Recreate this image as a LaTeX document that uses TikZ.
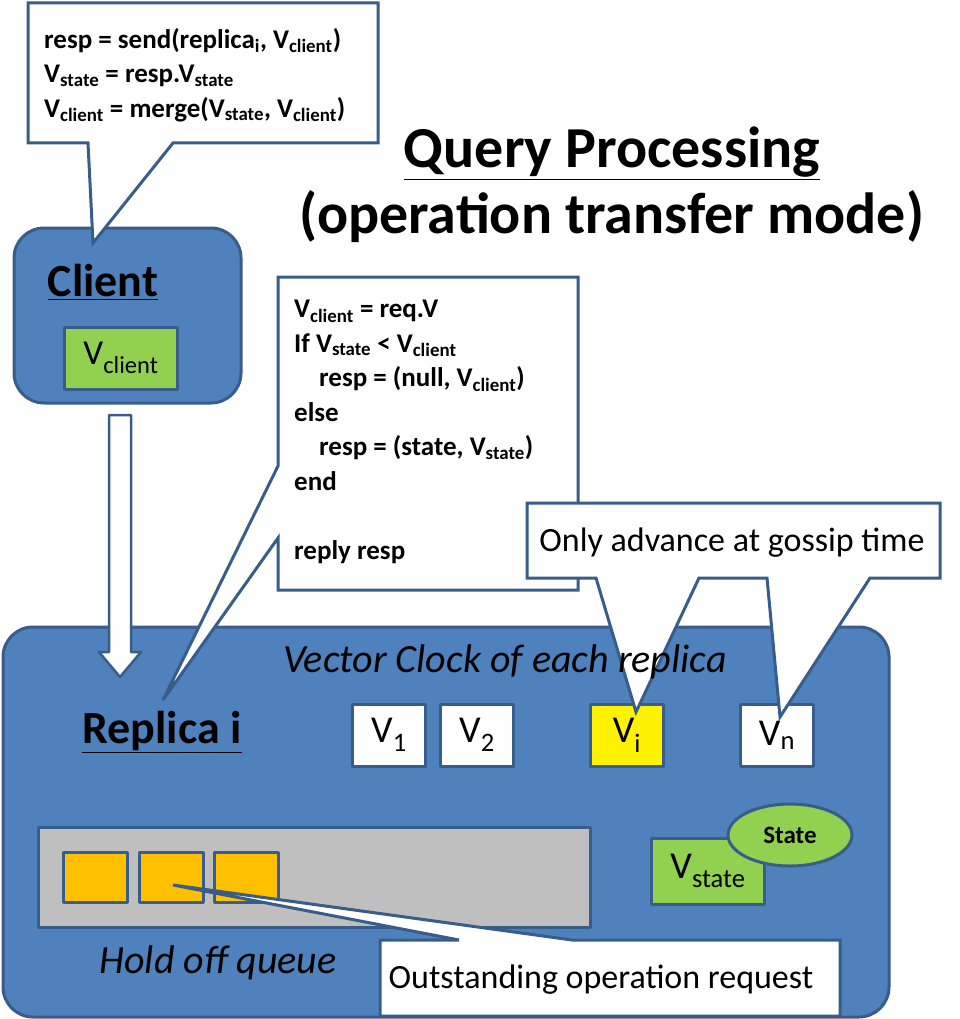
\documentclass[tikz,border=0pt]{standalone}
\usepackage{fontspec}
\setmainfont{Carlito}
\usetikzlibrary{shapes.geometric}
\definecolor{bfill}{HTML}{4F81BD}
\definecolor{bline}{HTML}{385D8A}
\definecolor{gfill}{HTML}{92D050}
\definecolor{ofill}{HTML}{FFC000}
\definecolor{qfill}{HTML}{BFBFBF}
\tikzset{
  bl/.style={draw=bline,line width=3pt,line join=round},
  blue box/.style={bl,fill=bfill,rounded corners=30pt},
  callout/.style={bl,fill=white,line join=miter},
  vbox/.style={bl,fill=white,minimum width=73pt,minimum height=62pt,inner sep=0pt,font=\fontsize{38}{38}\selectfont},
  code/.style={anchor=north west,align=left,inner sep=0pt,font=\bfseries\fontsize{27}{34.5}\selectfont},
}
\begin{document}
\begin{tikzpicture}[x=1pt,y=-1pt]
\useasboundingbox (0,0) rectangle (959,1019);
% Client
\draw[blue box] (14,228) rectangle (241,403);
\node[font=\bfseries\fontsize{46}{46}\selectfont] (client) at (103,282) {\underline{Client}};
\node[bl,fill=gfill,minimum width=113pt,minimum height=62pt,inner sep=0pt,font=\fontsize{35}{35}\selectfont] (vc) at (121,358) {V\textsubscript{client}};
% top callout
\draw[callout] (28,3) -- (378,3) -- (378,143) -- (173,143) -- (93,243) -- (88,143) -- (28,143) -- cycle;
\node[code] (c1) at (44,28) {resp = send(replica\textsubscript{i}, V\textsubscript{client})\\V\textsubscript{state} = resp.V\textsubscript{state}\\V\textsubscript{client} = merge(V\textsubscript{state}, V\textsubscript{client})};
% title
\node[font=\bfseries\fontsize{58}{66}\selectfont,align=center] (title) at (612,185) {\underline{Query Processing}\\(operation transfer mode)};
% replica box
\draw[blue box] (3,627) rectangle (889,1017);
% hollow arrow
\draw[bl,fill=white,line width=2.5pt] (109,415) -- (131,415) -- (131,652) -- (141,652) -- (120,677) -- (99,652) -- (109,652) -- cycle;
\node[font=\bfseries\fontsize{46}{46}\selectfont] (rep) at (162,732) {\underline{Replica i}};
\node[vbox] (v1) at (389,735) {V\textsubscript{1}};
\node[vbox] (v2) at (477,735) {V\textsubscript{2}};
\node[vbox,fill=yellow] (vi) at (627,735) {V\textsubscript{i}};
\node[vbox] (vn) at (777,735) {V\textsubscript{n}};
% queue
\draw[bl,fill=qfill] (38,827) rectangle (590,927);
\foreach \x/\n in {63/q1,139/q2,214/q3} \draw[bl,fill=ofill] (\x,852) rectangle ++(64,50);
\node[font=\itshape\fontsize{40}{40}\selectfont] (hq) at (218,963) {Hold off queue};
% state
\node[bl,fill=gfill,minimum width=113pt,minimum height=66pt,inner sep=0pt,font=\fontsize{38}{38}\selectfont] (vs) at (708,871) {V\textsubscript{state}};
\node[bl,fill=gfill,ellipse,minimum width=124pt,minimum height=62pt,inner sep=0pt,font=\bfseries\fontsize{25}{25}\selectfont] (st) at (790,835) {State};
% middle callout
\draw[callout] (278,277) -- (578,277) -- (578,590) -- (278,590) -- (278,538) -- (163,700) -- (278,466) -- cycle;
\node[code] (c2) at (294,300) {V\textsubscript{client} = req.V\\If V\textsubscript{state} {\textless} V\textsubscript{client}\\\hspace*{25pt}resp = (null, V\textsubscript{client})\\else\\\hspace*{25pt}resp = (state, V\textsubscript{state})\\end\\[34.5pt]reply resp};
% gossip callout
\draw[callout] (527,503) -- (940,503) -- (940,578) -- (870,578) -- (780,717) -- (767,578) -- (699,578) -- (636,712) -- (596,578) -- (527,578) -- cycle;
\node[font=\fontsize{34}{34}\selectfont] (g) at (732,543) {Only advance at gossip time};
\node[font=\itshape\fontsize{40}{40}\selectfont] (vcl) at (505,662) {Vector Clock of each replica};
% outstanding callout
\draw[callout] (380,940) -- (459,940) -- (173,885) -- (572,940) -- (840,940) -- (840,1016) -- (380,1016) -- cycle;
\node[font=\fontsize{34}{34}\selectfont] (o) at (601,980) {Outstanding operation request};
\end{tikzpicture}
\end{document}
